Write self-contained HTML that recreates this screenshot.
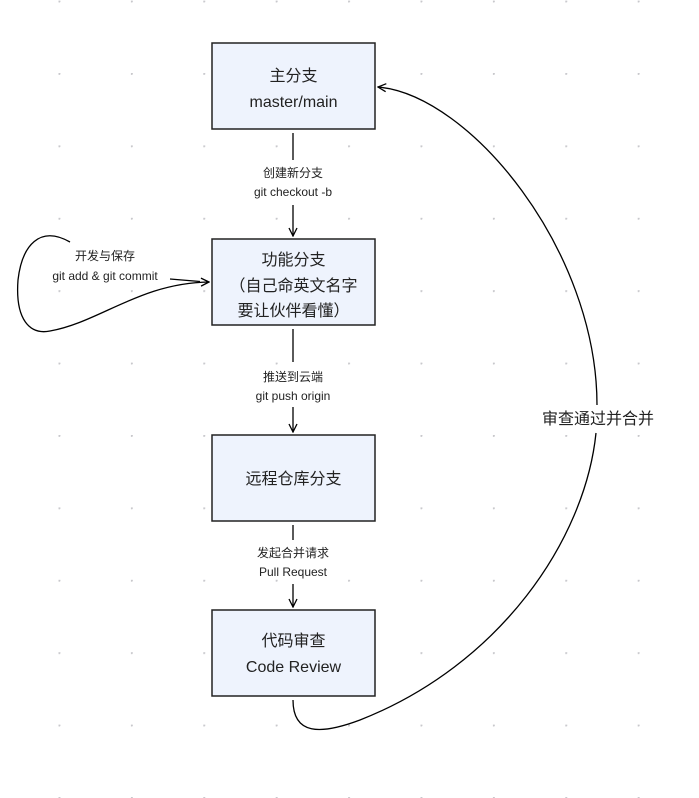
<!DOCTYPE html>
<html><head><meta charset="utf-8"><style>
body{margin:0;background:#fff;}
svg{display:block;font-family:"Liberation Sans","Noto Sans CJK SC",sans-serif;}
</style></head><body>
<svg width="699" height="798" viewBox="0 0 699 798" xmlns="http://www.w3.org/2000/svg">
<defs>
<pattern id="g" x="58.5" y="73" width="72.4" height="72.4" patternUnits="userSpaceOnUse">
<circle cx="0.8" cy="0.8" r="1.2" fill="#c8c8cc"/>
</pattern>
<marker id="a" markerWidth="10" markerHeight="10" refX="9" refY="5" orient="auto" markerUnits="userSpaceOnUse">
<path d="M1,1 L9,5 L1,9" fill="none" stroke="#000" stroke-width="1.3"/>
</marker>
</defs>
<rect x="-1" y="0" width="700" height="798" fill="url(#g)"/>
<g fill="#eef3fd" stroke="#222" stroke-width="1.5">
<rect x="212" y="43" width="163" height="86"/>
<rect x="212" y="239" width="163" height="86"/>
<rect x="212" y="435" width="163" height="86"/>
<rect x="212" y="610" width="163" height="86"/>
</g>
<g font-size="16" fill="#222" text-anchor="middle">
<text x="293.5" y="81">主分支</text>
<text x="293.5" y="107">master/main</text>
<text x="293.5" y="265">功能分支</text>
<text x="293.5" y="291">（自己命英文名字</text>
<text x="293.5" y="316">要让伙伴看懂）</text>
<text x="293.5" y="484">远程仓库分支</text>
<text x="293.5" y="646">代码审查</text>
<text x="293.5" y="672">Code Review</text>
</g>
<g stroke="#000" stroke-width="1.3" fill="none">
<line x1="293" y1="133" x2="293" y2="160"/>
<line x1="293" y1="205" x2="293" y2="236" marker-end="url(#a)"/>
<line x1="293" y1="329" x2="293" y2="362"/>
<line x1="293" y1="407" x2="293" y2="432" marker-end="url(#a)"/>
<line x1="293" y1="525" x2="293" y2="540"/>
<line x1="293" y1="584" x2="293" y2="607" marker-end="url(#a)"/>
<path d="M70,242 C40,225 22,245 18,280 C15,320 30,335 50,331 C100,322 140,283 209,282" marker-end="url(#a)"/>
<line x1="170" y1="279" x2="200" y2="281.5"/>
<path d="M293,700 C293,735 320,735 360,720 C500,665 585,540 596,433"/>
<path d="M597,405 C597,250 470,95 378,87" marker-end="url(#a)"/>
</g>
<g font-size="12" fill="#222" text-anchor="middle">
<text x="293" y="177">创建新分支</text>
<text x="293" y="196">git checkout -b</text>
<text x="293" y="381">推送到云端</text>
<text x="293" y="400">git push origin</text>
<text x="293" y="557">发起合并请求</text>
<text x="293" y="576">Pull Request</text>
<text x="105" y="260">开发与保存</text>
<text x="105" y="280">git add &amp; git commit</text>
</g>
<text x="598" y="424" font-size="16" fill="#222" text-anchor="middle">审查通过并合并</text>
</svg>
</body></html>
